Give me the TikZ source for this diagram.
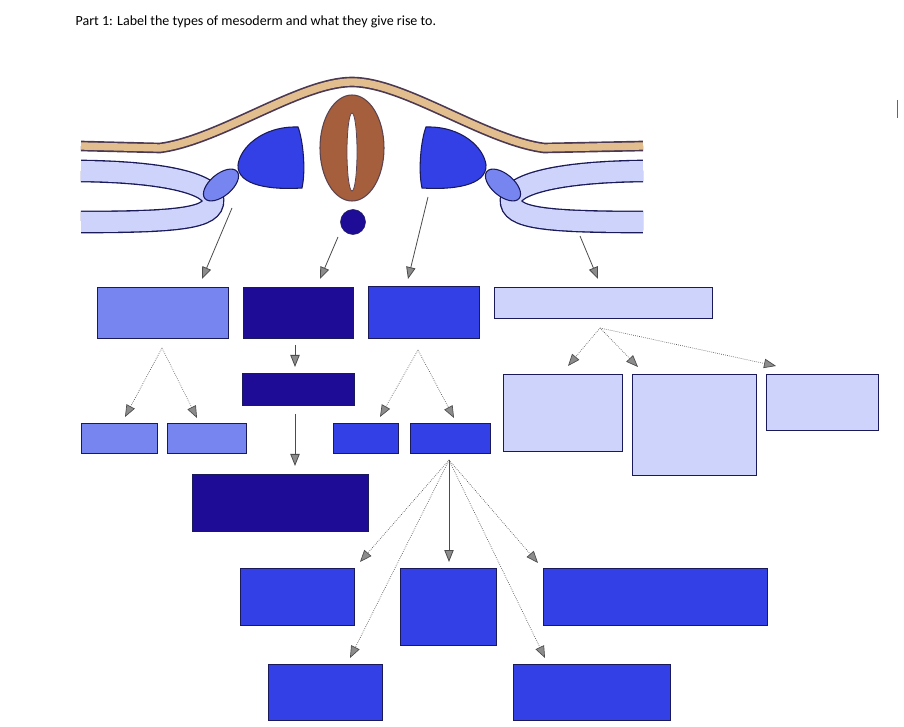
\documentclass[tikz,border=0pt]{standalone}
\usepackage{fontspec}
\setmainfont{Carlito}
\usetikzlibrary{arrows.meta}
\definecolor{lav}{HTML}{CDD3FA}
\definecolor{mid}{HTML}{7785F0}
\definecolor{navy}{HTML}{1E0C96}
\definecolor{som}{HTML}{3340E6}
\definecolor{tan}{HTML}{E2BD8E}
\definecolor{brn}{HTML}{A65F3C}
\definecolor{outl}{HTML}{1A1A5A}
\tikzset{
 bx/.style={draw=outl, line width=0.6pt},
 ar/.style={draw=black!70, line width=0.6pt, -{Triangle[length=9pt,width=7pt,fill=black!45]}},
 arl/.style={draw=black!70, line width=0.5pt, densely dotted, -{Triangle[length=9pt,width=7pt,fill=black!45]}}
}
\begin{document}
\begin{tikzpicture}[x=0.75pt,y=-0.75pt]
\useasboundingbox[fill=white] (0,0) rectangle (904,727);
\node[anchor=west, font=\fontsize{10.5pt}{12pt}\selectfont] (title) at (71,22) {Part 1: Label the types of mesoderm and what they give rise to.};
\draw[black!60, line width=0.6pt] (897,100) -- (897,118);
% ectoderm
\draw[outl!70!brown, line width=8pt] (81,146) -- (160,148) .. controls (220,140) and (300,82) .. (352,82) .. controls (404,82) and (484,140) .. (544,148) -- (643,146);
\draw[tan, line width=5.5pt] (81,146) -- (160,148) .. controls (220,140) and (300,82) .. (352,82) .. controls (404,82) and (484,140) .. (544,148) -- (643,146);
% lateral plate
\foreach \s/\o in {1/0,-1/724}{
 \begin{scope}[xshift=\o*0.75pt, xscale=\s]
 \draw[outl, line width=17pt] (81,171) .. controls (170,172) and (212,185) .. (213,200) .. controls (214,218) and (180,222) .. (81,222);
 \draw[lav, line width=15pt] (81,171) .. controls (170,172) and (212,185) .. (213,200) .. controls (214,218) and (180,222) .. (81,222);
 \draw[mid, fill=mid, draw=outl, line width=0.8pt, rotate around={40:(221,185)}] (221,185) ellipse [x radius=21pt*0.75, y radius=11pt*0.75];
 \draw[fill=som, draw=outl, line width=0.8pt] (298,127) .. controls (262,126) and (240,148) .. (238,165) .. controls (237,186) and (272,190) .. (302,188) .. controls (306,170) and (303,140) .. cycle;
 \end{scope}}
\node[circle, fill=navy, draw=outl, minimum size=25pt*0.75, inner sep=0pt] (noto) at (353,222) {};
\draw[fill=brn, draw=outl!60!brown, line width=0.8pt] (352,148) ellipse [x radius=32pt*0.75, y radius=53pt*0.75];
\draw[fill=white, draw=outl!60!brown, line width=0.6pt] (352,152) ellipse [x radius=5pt*0.75, y radius=39pt*0.75];
% boxes
\newcommand\bxx[6]{\node[bx, fill=#6, anchor=north west, minimum width={(#4-#2)*0.75pt}, minimum height={(#5-#3)*0.75pt}, inner sep=0pt] (#1) at (#2,#3) {};}
\bxx{A}{97}{287}{228}{338}{mid}
\bxx{B}{243}{287}{353}{338}{navy}
\bxx{C}{368}{286}{479}{338}{som}
\bxx{D}{494}{287}{712}{318}{lav}
\bxx{B2}{242}{373}{354}{405}{navy}
\bxx{A1}{81}{423}{157}{453}{mid}
\bxx{A2}{167}{423}{246}{453}{mid}
\bxx{C1}{333}{423}{398}{453}{som}
\bxx{C2}{410}{423}{490}{453}{som}
\bxx{B3}{192}{474}{368}{531}{navy}
\bxx{D1}{503}{374}{622}{451}{lav}
\bxx{D2}{632}{374}{756}{475}{lav}
\bxx{D3}{766}{374}{878}{430}{lav}
\bxx{E1}{240}{568}{354}{625}{som}
\bxx{E2}{400}{568}{496}{645}{som}
\bxx{E3}{543}{568}{767}{625}{som}
\bxx{F1}{268}{664}{382}{720}{som}
\bxx{F2}{513}{664}{670}{720}{som}
% arrows
\coordinate (t1) at (232,208); \coordinate (t2) at (338,237); \coordinate (t3) at (428,197); \coordinate (t4) at (580,236);
\draw[ar] (t1) -- (202,279); \draw[ar] (t2) -- (320,279); \draw[ar] (t3) -- (408,279); \draw[ar] (t4) -- (598,279);
\coordinate (pa) at (162,348); \coordinate (pc) at (418,350); \coordinate (pd) at (600,328); \coordinate (pe) at (449,460);
\draw[arl] (pa) -- (125,417); \draw[arl] (pa) -- (197,418);
\draw[ar] (B.south -| 295,0) ++(0,6) -- (295,367);
\draw[ar] (295,414) -- (295,466);
\draw[arl] (pc) -- (380,417); \draw[arl] (pc) -- (454,418);
\draw[arl] (pd) -- (568,366); \draw[arl] (pd) -- (638,367); \draw[arl] (pd) -- (776,366);
\draw[arl] (pe) -- (360,562); \draw[ar] (pe) -- (449,562); \draw[arl] (pe) -- (538,563);
\draw[arl] (pe) -- (350,658); \draw[arl] (pe) -- (545,658);
\end{tikzpicture}
\end{document}
